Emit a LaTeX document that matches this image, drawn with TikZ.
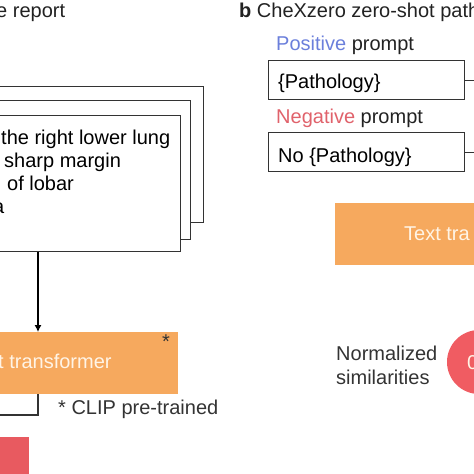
\documentclass[tikz,border=0pt]{standalone}
\usepackage{fontspec}
\setmainfont{Liberation Sans}
\usetikzlibrary{arrows.meta}
\definecolor{orng}{HTML}{F6A95E}
\definecolor{redr}{HTML}{E85A60}
\definecolor{redc}{HTML}{F05C62}
\definecolor{posblue}{HTML}{6B7FDB}
\definecolor{negred}{HTML}{E0626B}
\definecolor{lined}{HTML}{333333}
\definecolor{txtd}{HTML}{222222}
\definecolor{wtxt}{HTML}{FFF4E6}
\tikzset{
  txt/.style={inner sep=0pt, anchor=base west, text=txtd, font=\fontsize{20}{24}\selectfont},
  docbox/.style={draw=lined, line width=1.3pt, fill=white, anchor=north west, inner sep=0pt},
  promptbox/.style={draw=lined, line width=1.3pt, fill=white, anchor=north west, inner sep=0pt, minimum width=196pt, minimum height=39pt},
  orangebox/.style={fill=orng, anchor=north west, inner sep=0pt},
  conn/.style={draw=lined, line width=1.3pt},
  arrowline/.style={draw=black, line width=1.1pt, -{Latex[length=7pt,width=7pt]}},
}
\begin{document}
\begin{tikzpicture}[x=1pt,y=-1pt]
\useasboundingbox (0,0) rectangle (474,474);
\clip (0,0) rectangle (474,474);
% left panel
\node[txt] (titlea) at (-4,17) {e report};
\node[docbox, minimum width=213pt, minimum height=136pt] (back) at (-10,86) {};
\node[docbox, minimum width=200pt, minimum height=139pt] (mid) at (-10,100) {};
\node[docbox, minimum width=190pt, minimum height=136pt] (front) at (-10,115) {};
\node[txt, text=black] (l1) at (1,144) {the right lower lung};
\node[txt, text=black] (l2) at (4,167) {sharp margin};
\node[txt, text=black] (l3) at (7,190) {of lobar};
\node[txt, text=black] (l4) at (-7,213) {a};
\node[orangebox, minimum width=188pt, minimum height=62pt] (ltf) at (-10,332) {};
\node[txt, text=wtxt] (ltft) at (-2,368) {t transformer};
\node[txt, text=lined, anchor=center] (star) at (166,342) {*};
\coordinate (ax) at (38,0);
\draw[arrowline] (ax |- front.south) -- (ax |- ltf.north);
\coordinate (cl) at (-10,415);
\draw[conn] (ax |- ltf.south) -- (ax |- cl) -- (cl);
\node[txt, text=lined] (clip) at (58,414) {* CLIP pre-trained};
\node[fill=redr, anchor=north west, inner sep=0pt, minimum width=39pt, minimum height=50pt] (redrect) at (-10,437) {};
% right panel
\node[txt] (titleb) at (239,17) {\textbf{b} CheXzero zero-shot path};
\node[txt] (pos) at (276,50) {\textcolor{posblue}{Positive} prompt};
\node[promptbox] (box1) at (268,60) {};
\node[txt, text=black] (box1t) at (278,88) {\{Pathology\}};
\node[txt] (neg) at (276,123) {\textcolor{negred}{Negative} prompt};
\node[promptbox] (box2) at (268,132) {};
\node[txt, text=black] (box2t) at (278,162) {No \{Pathology\}};
\coordinate (rr) at (480,0);
\draw[conn] (box1.east) -- (box1.east -| rr);
\draw[conn] (box2.east) -- (box2.east -| rr);
\node[orangebox, minimum width=150pt, minimum height=62pt] (rtf) at (335,203) {};
\node[txt, text=wtxt] (rtft) at (404,240) {Text tra};
\node[txt, text=lined] (norm1) at (336,360) {Normalized};
\node[txt, text=lined] (norm2) at (336,384) {similarities};
\node[circle, fill=redc, minimum size=64pt, inner sep=0pt] (circ) at (479,362) {};
\node[txt, text=wtxt] (circt) at (467,369) {0};
\end{tikzpicture}
\end{document}
